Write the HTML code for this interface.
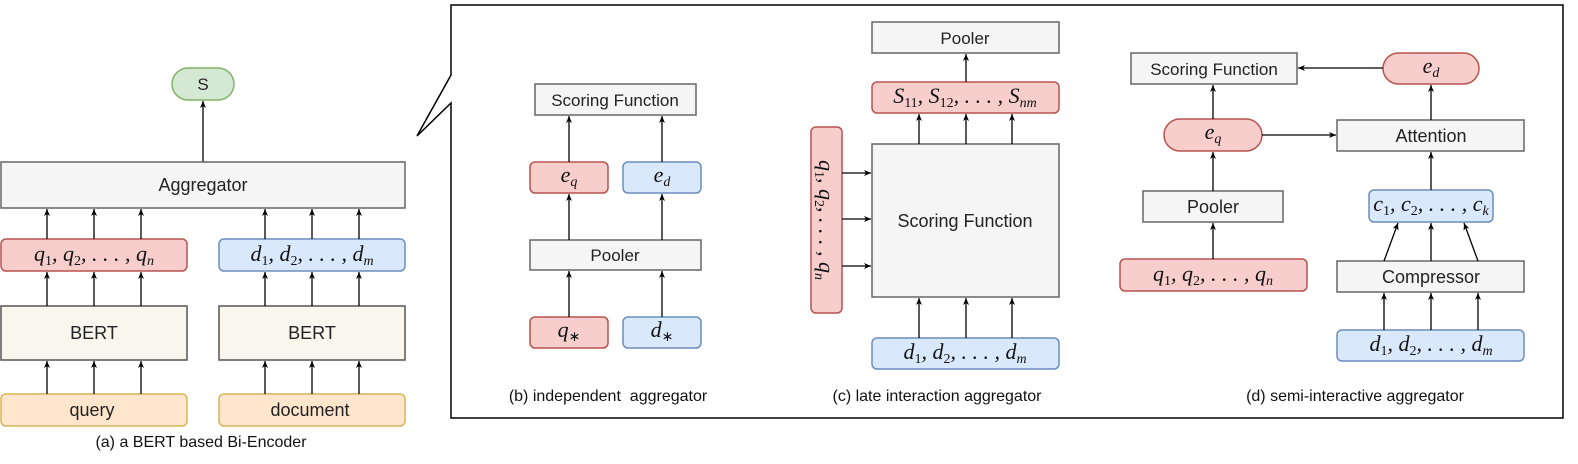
<!DOCTYPE html>
<html><head><meta charset="utf-8"><style>
html,body{margin:0;padding:0;background:#fff;}
svg{display:block;}
.s{font-family:"Liberation Sans",sans-serif;font-size:17px;fill:#222;}
.c{font-family:"Liberation Sans",sans-serif;font-size:16px;fill:#111;}
.m{font-family:"Liberation Serif",serif;font-style:italic;font-size:22px;fill:#111;}
.b{font-size:14px;font-style:normal;}
.bi{font-size:14px;font-style:italic;}
.g{fill:#f5f5f5;stroke:#666;stroke-width:1.5;}
.r{fill:#f8cecc;stroke:#b85450;stroke-width:1.5;}
.bl{fill:#dae8fc;stroke:#6c8ebf;stroke-width:1.5;}
.y{fill:#f9f7ed;stroke:#555;stroke-width:1.5;}
.o{fill:#ffe6cc;stroke:#d6b656;stroke-width:1.5;}
.gr{fill:#d5e8d4;stroke:#82b366;stroke-width:1.5;}
line{stroke:#000;stroke-width:1.3;marker-end:url(#a);}
</style></head><body>
<svg width="1578" height="464" viewBox="0 0 1578 464" xmlns="http://www.w3.org/2000/svg">
<defs><marker id="a" markerWidth="8" markerHeight="8" refX="7" refY="4" orient="auto" markerUnits="userSpaceOnUse"><path d="M0,1 L7,4 L0,7 L2,4 z" fill="#000"/></marker></defs>
<!-- (a) -->
<rect class="gr" x="172" y="68" width="62" height="32" rx="16"/>
<text class="s" x="203" y="90" text-anchor="middle">S</text>
<line x1="203" y1="162" x2="203" y2="101"/>
<rect class="g" x="1" y="162" width="404" height="46"/>
<text class="s" x="203" y="191" text-anchor="middle" style="font-size:18px" fill="#333">Aggregator</text>
<rect class="r" x="1" y="239" width="186" height="32" rx="5"/>
<text class="m" x="94" y="261" text-anchor="middle">q<tspan class="b" dy="4">1</tspan><tspan dy="-4">, q</tspan><tspan class="b" dy="4">2</tspan><tspan dy="-4">, . . . , q</tspan><tspan class="bi" dy="4">n</tspan></text>
<rect class="bl" x="219" y="239" width="186" height="32" rx="5"/>
<text class="m" x="312" y="261" text-anchor="middle">d<tspan class="b" dy="4">1</tspan><tspan dy="-4">, d</tspan><tspan class="b" dy="4">2</tspan><tspan dy="-4">, . . . , d</tspan><tspan class="bi" dy="4">m</tspan></text>
<rect class="y" x="1" y="306" width="186" height="54"/>
<text class="s" x="94" y="339" text-anchor="middle" style="font-size:18px">BERT</text>
<rect class="y" x="219" y="306" width="186" height="54"/>
<text class="s" x="312" y="339" text-anchor="middle" style="font-size:18px">BERT</text>
<rect class="o" x="1" y="394" width="186" height="32" rx="5"/>
<text class="s" x="92" y="416" text-anchor="middle" style="font-size:18px">query</text>
<rect class="o" x="219" y="394" width="186" height="32" rx="5"/>
<text class="s" x="310" y="416" text-anchor="middle" style="font-size:18px">document</text>
<g>
<line x1="47" y1="239" x2="47" y2="209"/><line x1="94" y1="239" x2="94" y2="209"/><line x1="141" y1="239" x2="141" y2="209"/>
<line x1="265" y1="239" x2="265" y2="209"/><line x1="312" y1="239" x2="312" y2="209"/><line x1="359" y1="239" x2="359" y2="209"/>
<line x1="47" y1="306" x2="47" y2="272"/><line x1="94" y1="306" x2="94" y2="272"/><line x1="141" y1="306" x2="141" y2="272"/>
<line x1="265" y1="306" x2="265" y2="272"/><line x1="312" y1="306" x2="312" y2="272"/><line x1="359" y1="306" x2="359" y2="272"/>
<line x1="47" y1="394" x2="47" y2="361"/><line x1="94" y1="394" x2="94" y2="361"/><line x1="141" y1="394" x2="141" y2="361"/>
<line x1="265" y1="394" x2="265" y2="361"/><line x1="312" y1="394" x2="312" y2="361"/><line x1="359" y1="394" x2="359" y2="361"/>
</g>
<text class="c" x="201" y="447" text-anchor="middle">(a) a BERT based Bi-Encoder</text>
<!-- callout -->
<path d="M451,75 L451,5 L1563,5 L1563,418 L451,418 L451,103 L417,136 Z" fill="none" stroke="#000" stroke-width="1.5"/>
<!-- (b) -->
<rect class="g" x="535" y="84" width="161" height="31"/>
<text class="s" x="615" y="106" text-anchor="middle">Scoring Function</text>
<rect class="r" x="530" y="162" width="78" height="31" rx="5"/>
<text class="m" x="569" y="182" text-anchor="middle">e<tspan class="bi" dy="4">q</tspan></text>
<rect class="bl" x="623" y="162" width="78" height="31" rx="5"/>
<text class="m" x="662" y="182" text-anchor="middle">e<tspan class="bi" dy="4">d</tspan></text>
<rect class="g" x="530" y="240" width="171" height="30"/>
<text class="s" x="615" y="261" text-anchor="middle">Pooler</text>
<rect class="r" x="530" y="317" width="78" height="31" rx="5"/>
<text class="m" x="569" y="337" text-anchor="middle">q<tspan class="b" dy="4">∗</tspan></text>
<rect class="bl" x="623" y="317" width="78" height="31" rx="5"/>
<text class="m" x="662" y="337" text-anchor="middle">d<tspan class="b" dy="4">∗</tspan></text>
<line x1="569" y1="162" x2="569" y2="116"/><line x1="662" y1="162" x2="662" y2="116"/>
<line x1="569" y1="240" x2="569" y2="194"/><line x1="662" y1="240" x2="662" y2="194"/>
<line x1="569" y1="317" x2="569" y2="271"/><line x1="662" y1="317" x2="662" y2="271"/>
<text class="c" x="608" y="401" text-anchor="middle">(b) independent&#160; aggregator</text>
<!-- (c) -->
<rect class="g" x="872" y="22" width="187" height="31"/>
<text class="s" x="965" y="44" text-anchor="middle">Pooler</text>
<rect class="r" x="872" y="82" width="187" height="31" rx="5"/>
<text class="m" x="965" y="103" text-anchor="middle">S<tspan class="b" dy="4">11</tspan><tspan dy="-4">, S</tspan><tspan class="b" dy="4">12</tspan><tspan dy="-4">, . . . , S</tspan><tspan class="bi" dy="4">nm</tspan></text>
<line x1="966" y1="82" x2="966" y2="54"/>
<rect class="g" x="872" y="144" width="187" height="153"/>
<text class="s" x="965" y="227" text-anchor="middle" fill="#333" style="font-size:18px">Scoring Function</text>
<line x1="919" y1="144" x2="919" y2="114"/><line x1="966" y1="144" x2="966" y2="114"/><line x1="1012" y1="144" x2="1012" y2="114"/>
<rect class="r" x="811" y="127" width="31" height="186" rx="5"/>
<text class="m" transform="translate(819,220) rotate(90)" text-anchor="middle">q<tspan class="b" dy="4">1</tspan><tspan dy="-4">, q</tspan><tspan class="b" dy="4">2</tspan><tspan dy="-4">, . . . , q</tspan><tspan class="bi" dy="4">n</tspan></text>
<line x1="842" y1="173" x2="871" y2="173"/><line x1="842" y1="219" x2="871" y2="219"/><line x1="842" y1="266" x2="871" y2="266"/>
<rect class="bl" x="872" y="338" width="187" height="31" rx="5"/>
<text class="m" x="965" y="359" text-anchor="middle">d<tspan class="b" dy="4">1</tspan><tspan dy="-4">, d</tspan><tspan class="b" dy="4">2</tspan><tspan dy="-4">, . . . , d</tspan><tspan class="bi" dy="4">m</tspan></text>
<line x1="919" y1="338" x2="919" y2="298"/><line x1="966" y1="338" x2="966" y2="298"/><line x1="1012" y1="338" x2="1012" y2="298"/>
<text class="c" x="937" y="401" text-anchor="middle">(c) late interaction aggregator</text>
<!-- (d) -->
<rect class="g" x="1131" y="53" width="166" height="31"/>
<text class="s" x="1214" y="75" text-anchor="middle">Scoring Function</text>
<rect class="r" x="1383" y="53" width="96" height="31" rx="15.5"/>
<text class="m" x="1431" y="73" text-anchor="middle">e<tspan class="bi" dy="4">d</tspan></text>
<line x1="1383" y1="68" x2="1298" y2="68"/>
<rect class="r" x="1164" y="119" width="98" height="32" rx="16"/>
<text class="m" x="1213" y="139" text-anchor="middle">e<tspan class="bi" dy="4">q</tspan></text>
<rect class="g" x="1337" y="120" width="187" height="31"/>
<text class="s" x="1431" y="142" text-anchor="middle" style="font-size:18px">Attention</text>
<line x1="1262" y1="135" x2="1336" y2="135"/>
<line x1="1213" y1="119" x2="1213" y2="85"/>
<line x1="1431" y1="120" x2="1431" y2="85"/>
<rect class="g" x="1143" y="191" width="140" height="31"/>
<text class="s" x="1213" y="213" text-anchor="middle" style="font-size:18px">Pooler</text>
<line x1="1213" y1="191" x2="1213" y2="152"/>
<rect class="r" x="1120" y="259" width="187" height="32" rx="5"/>
<text class="m" x="1213" y="281" text-anchor="middle">q<tspan class="b" dy="4">1</tspan><tspan dy="-4">, q</tspan><tspan class="b" dy="4">2</tspan><tspan dy="-4">, . . . , q</tspan><tspan class="bi" dy="4">n</tspan></text>
<line x1="1213" y1="259" x2="1213" y2="223"/>
<rect class="bl" x="1369" y="190" width="124" height="32" rx="5"/>
<text class="m" x="1431" y="211" text-anchor="middle">c<tspan class="b" dy="4">1</tspan><tspan dy="-4">, c</tspan><tspan class="b" dy="4">2</tspan><tspan dy="-4">, . . . , c</tspan><tspan class="bi" dy="4">k</tspan></text>
<line x1="1431" y1="190" x2="1431" y2="152"/>
<rect class="g" x="1337" y="261" width="187" height="31"/>
<text class="s" x="1431" y="283" text-anchor="middle" style="font-size:18px">Compressor</text>
<line x1="1384" y1="261" x2="1398" y2="223"/><line x1="1431" y1="261" x2="1431" y2="223"/><line x1="1478" y1="261" x2="1464" y2="223"/>
<rect class="bl" x="1337" y="330" width="187" height="31" rx="5"/>
<text class="m" x="1431" y="351" text-anchor="middle">d<tspan class="b" dy="4">1</tspan><tspan dy="-4">, d</tspan><tspan class="b" dy="4">2</tspan><tspan dy="-4">, . . . , d</tspan><tspan class="bi" dy="4">m</tspan></text>
<line x1="1384" y1="330" x2="1384" y2="293"/><line x1="1431" y1="330" x2="1431" y2="293"/><line x1="1478" y1="330" x2="1478" y2="293"/>
<text class="c" x="1355" y="401" text-anchor="middle">(d) semi-interactive aggregator</text>
</svg>
</body></html>
